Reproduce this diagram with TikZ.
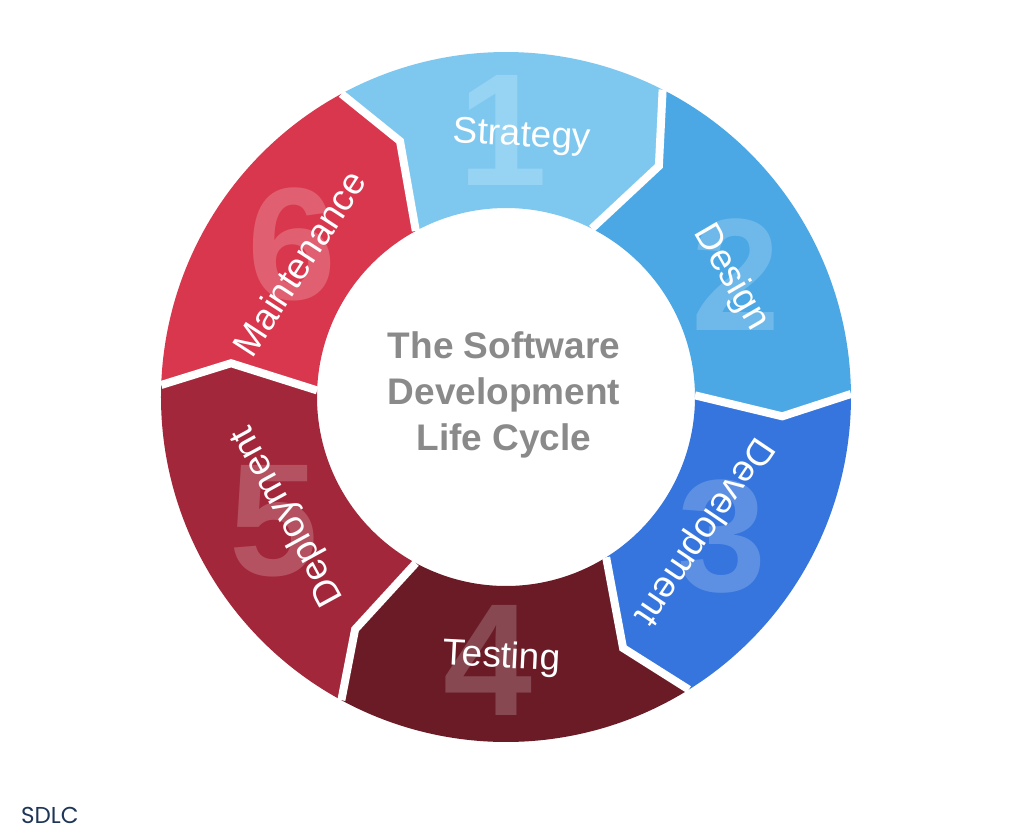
\documentclass[tikz,border=0pt]{standalone}
\usepackage{fontspec}
\setmainfont{Liberation Sans}
\newfontfamily\sdlcfont{Poppins}
\definecolor{cStrat}{HTML}{7EC8EF}
\definecolor{cDesign}{HTML}{4BA8E5}
\definecolor{cDev}{HTML}{3575DD}
\definecolor{cTest}{HTML}{6A1B26}
\definecolor{cDeploy}{HTML}{A3273A}
\definecolor{cMaint}{HTML}{D9374D}
\definecolor{cCenter}{HTML}{8A8A8A}
\definecolor{cSdlc}{HTML}{1D3557}
\def\Ro{345}
\def\Ri{189}
\def\Rm{277}
% #1 start angle, #2 notch angle, #3 end angle, #4 tip angle, #5 colour
\newcommand\ringseg[5]{%
  \fill[#5] (#1:\Ro) arc[start angle=#1, end angle=#3, radius=\Ro] -- (#4:\Rm) -- (#3:\Ri)
    arc[start angle=#3, end angle=#1, radius=\Ri] -- (#2:\Rm) -- cycle;}
% #1 boundary angle, #2 tip angle
\newcommand\ringgap[2]{%
  \draw[gapline] (#1:\Ro) -- (#2:\Rm) -- (#1:\Ri);}
\tikzset{
  gapline/.style={white, line width=8pt, line cap=square, line join=miter},
  lbl/.style={text=white, inner sep=0pt, font=\fontsize{37}{40}\selectfont},
  num/.style={text=white, text opacity=0.2, inner sep=0pt, font=\fontsize{160}{160}\selectfont\bfseries},
  title/.style={text=cCenter, align=center, inner sep=0pt, font=\fontsize{37}{46}\selectfont\bfseries}
}
\begin{document}
\begin{tikzpicture}[x=1pt,y=1pt]
\useasboundingbox[fill=white] (-506,-441) rectangle (518,397);
% segments
\ringseg{118.5}{112.5}{63}{56.5}{cStrat}
\ringseg{63}{56.5}{0.5}{-4}{cDesign}
\ringseg{0.5}{-4}{-58}{-65}{cDev}
\ringseg{-58}{-65}{-118.5}{-123}{cTest}
\ringseg{-118.5}{-123}{-182}{-187}{cDeploy}
\ringseg{178}{173}{118.5}{112.5}{cMaint}
% gaps
\ringgap{118.5}{112.5}
\ringgap{63}{56.5}
\ringgap{0.5}{-4}
\ringgap{-58}{-65}
\ringgap{-118.5}{-123}
\ringgap{178}{173}
% big numbers
\node[num] (n1) at (-3,267) {1};
\node[num] (n2) at (230,122) {2};
\node[num] (n3) at (216,-140) {3};
\node[num] (n4) at (-18,-263) {4};
\node[num] (n5) at (-232,-124) {5};
\node[num] (n6) at (-214,153) {6};
% labels
\node[lbl, rotate=-3] (l1) at (16,260) {Strategy};
\node[lbl, rotate=-60] (l2) at (225,119) {Design};
\node[lbl, rotate=-124] (l3) at (197,-134) {Development};
\node[lbl, rotate=-3] (l4) at (-4,-261) {Testing};
\node[lbl, rotate=118.6] (l5) at (-218,-119) {Deployment};
\node[lbl, rotate=57] (l6) at (-207,134) {Maintenance};
% centre title
\node[title] (t) at (-2,2) {The Software\\Development\\Life Cycle};
% caption
\node[anchor=base west, inner sep=0pt, text=cSdlc, font=\sdlcfont\fontsize{23}{26}\selectfont] (cap) at (-485,-426) {SDLC};
\end{tikzpicture}
\end{document}
